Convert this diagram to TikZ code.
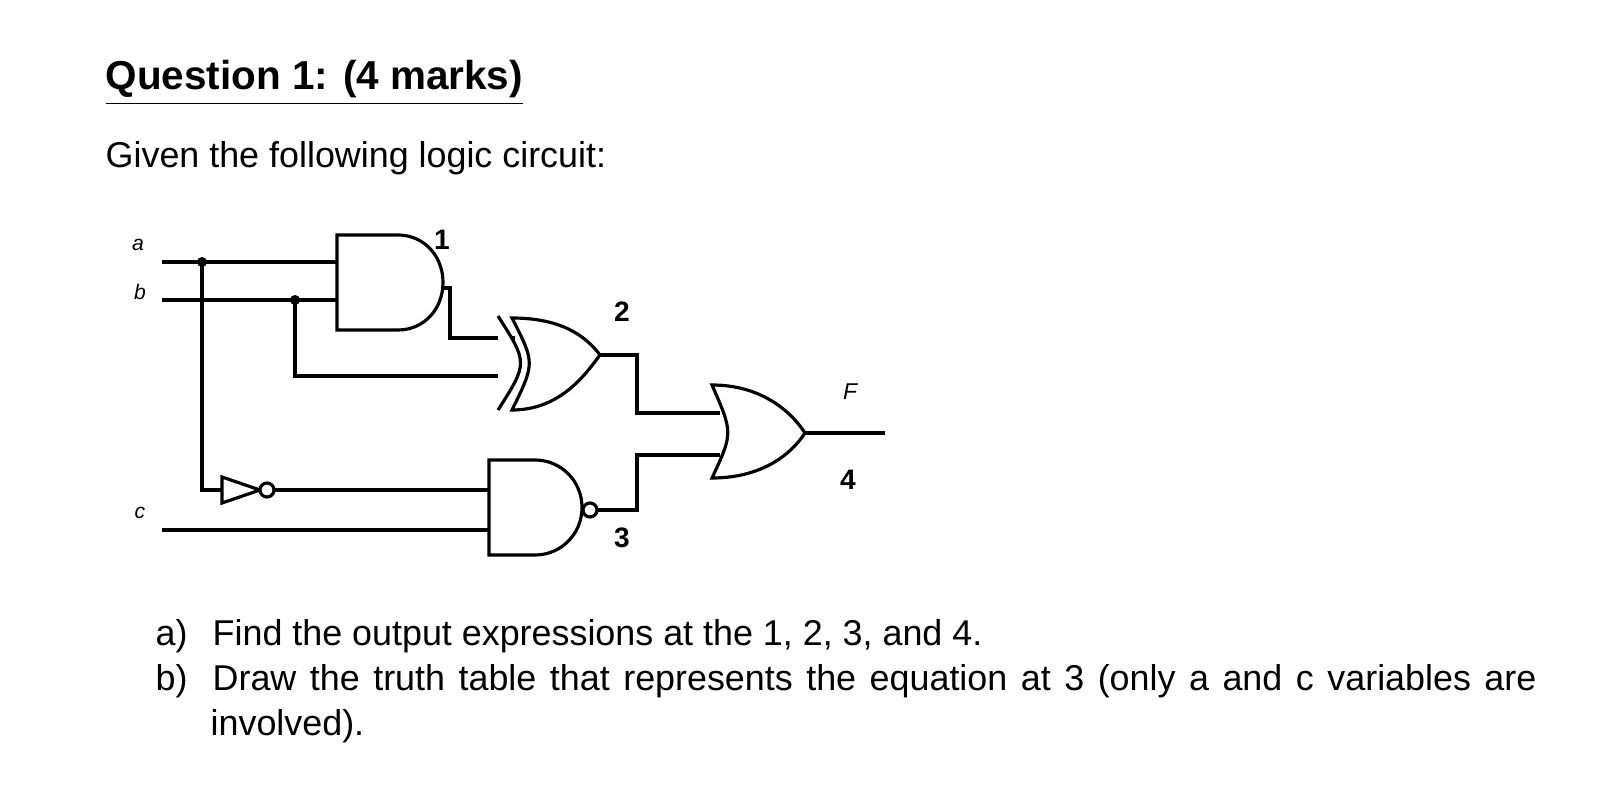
\documentclass[tikz,border=0pt]{standalone}
\usepackage{fontspec}
\setmainfont{Liberation Sans}
\begin{document}
\begin{tikzpicture}[x=0.01cm,y=-0.01cm,
  w/.style={line width=1.2pt},
  g/.style={line width=0.9pt,fill=white},
  lab/.style={font=\bfseries\fontsize{8}{9}\selectfont},
  inl/.style={font=\itshape\fontsize{6}{7}\selectfont},
  txt/.style={anchor=base west,inner sep=0pt,font=\fontsize{10.2}{12}\selectfont}]
\useasboundingbox (0,0) rectangle (1616,788);
\node[txt,font=\bfseries\fontsize{11.5}{13}\selectfont] (t) at (105,90) {\underline{Question 1: (4 marks)}};
\node[txt] (g1) at (105,168) {Given the following logic circuit:};
\node[txt] (qa) at (155,645) {a)\hspace{0.7em}Find the output expressions at the 1, 2, 3, and 4.};
\node[txt] (qb1) at (155,690) {\makebox[13.8cm][s]{b)\hspace{0.7em}Draw the truth table that represents the equation at 3 (only a and c variables are}};
\node[txt] (qb2) at (210,735) {involved).};
% input labels
\node[inl] (la) at (138,245) {a};
\node[inl] (lb) at (140,292) {b};
\node[inl] (lc) at (140,513) {c};
\node[lab] (n1) at (442,240) {1};
\node[lab] (n2) at (622,312) {2};
\node[lab] (n3) at (622,538) {3};
\node[lab] (n4) at (848,480) {4};
\node[inl,font=\itshape\fontsize{6.5}{7}\selectfont] (nF) at (850,392) {F};
% wires
\coordinate (a0) at (162,262); \coordinate (ja) at (202,262);
\coordinate (b0) at (162,300); \coordinate (jb) at (295,300);
\draw[w] (a0) -- (337,262);
\draw[w] (b0) -- (337,300);
\draw[w] (ja) -- (202,490) -- (222,490);
\draw[w] (jb) -- (295,376) -- (515,376);
\draw[w] (440,288) -- (450,288) -- (450,338) -- (515,338);
\draw[w] (600,355) -- (637,355) -- (637,413) -- (720,413);
\draw[w] (597,510) -- (637,510) -- (637,455) -- (720,455);
\draw[w] (275,490) -- (489,490);
\draw[w] (162,530) -- (489,530);
\draw[w] (805,433) -- (885,433);
\fill (ja) circle (5); \fill (jb) circle (5);
% AND 1
\draw[g] (337,235) -- (398,235) .. controls (424,235) and (443,256) .. (443,282.5) .. controls (443,309) and (424,330) .. (398,330) -- (337,330) -- cycle;
% XOR
\draw[g] (498,316) .. controls (528,363) .. (498,410);
\draw[g] (512,318) .. controls (560,318) and (585,335) .. (600,355) .. controls (585,375) and (560,410) .. (512,410) .. controls (535,363) .. (512,318) -- cycle;
% OR
\draw[g] (712,385) .. controls (760,385) and (790,410) .. (805,433) .. controls (790,456) and (760,478) .. (712,478) .. controls (733,433) .. (712,385) -- cycle;
% NAND
\draw[g] (489,460) -- (535,460) .. controls (561,460) and (582,481) .. (582,507.5) .. controls (582,534) and (561,555) .. (535,555) -- (489,555) -- cycle;
\draw[g] (590,510) circle (7);
% NOT
\draw[g] (222,477) -- (260,490) -- (222,503) -- cycle;
\draw[g] (267,490) circle (7);
\end{tikzpicture}
\end{document}
